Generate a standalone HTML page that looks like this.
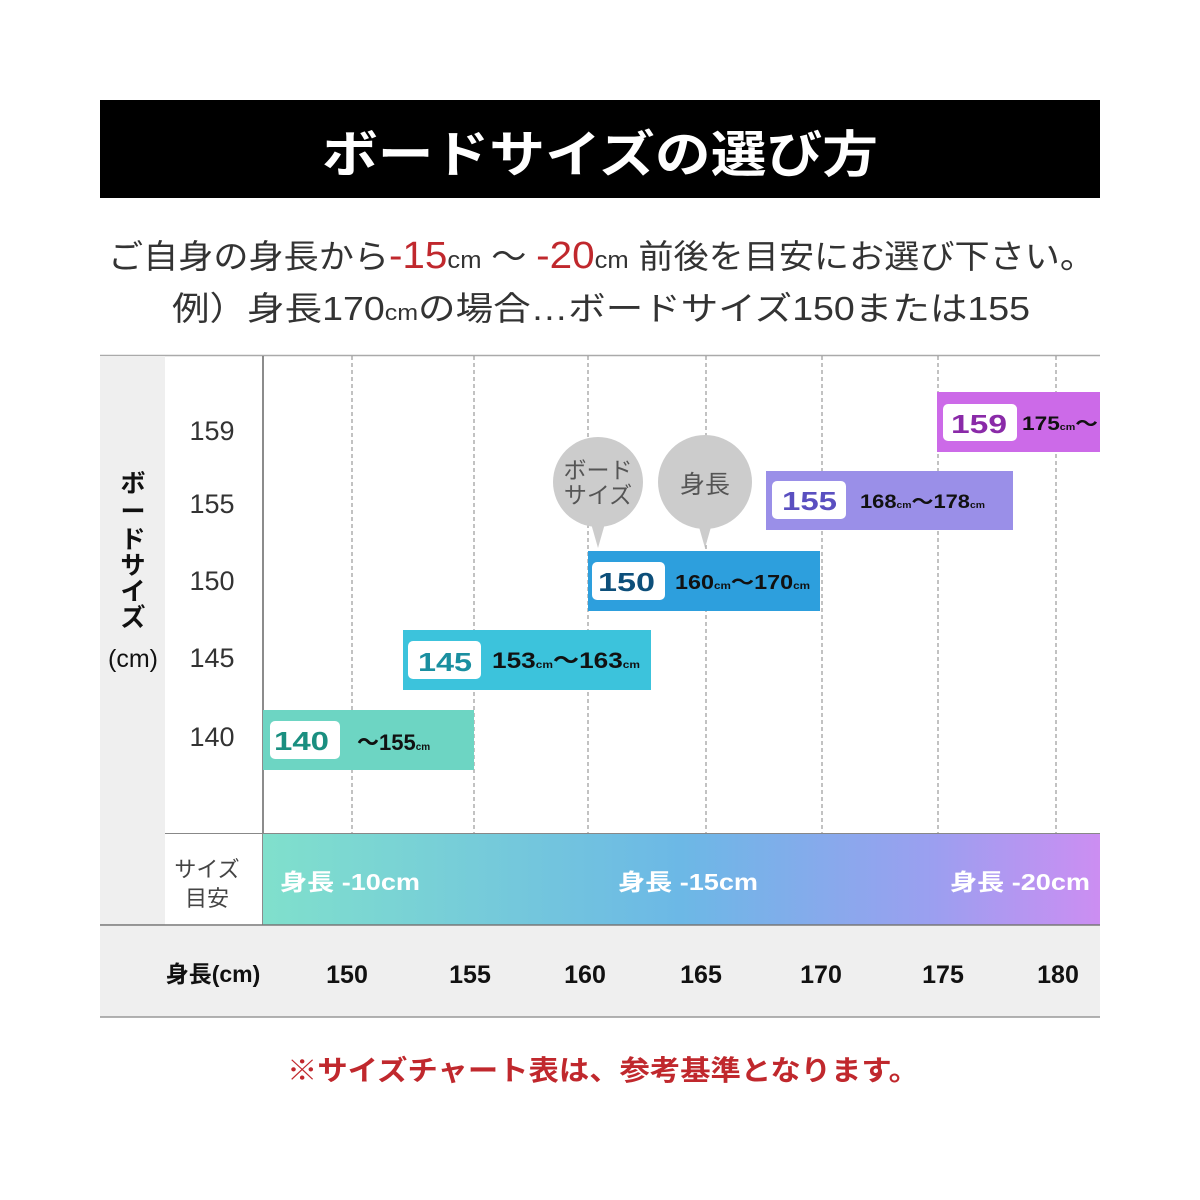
<!DOCTYPE html>
<html><head><meta charset="utf-8"><style>html,body{margin:0;padding:0;background:#fff}svg{display:block}</style></head><body>
<svg width="1200" height="1200" viewBox="0 0 1200 1200" xmlns="http://www.w3.org/2000/svg" font-family="'Liberation Sans','Noto Sans CJK JP',sans-serif">
<defs>
<linearGradient id="g" x1="0" x2="1" y1="0" y2="0">
<stop offset="0" stop-color="#80e0cc"/><stop offset="0.5" stop-color="#6cb8e6"/><stop offset="0.8" stop-color="#9b9ff0"/><stop offset="1" stop-color="#cc8ef2"/>
</linearGradient>
</defs>
<rect x="100" y="100" width="1000" height="98" fill="#000"/>
<text x="600" y="172" fill="#fff" font-size="50" font-weight="bold" text-anchor="middle" textLength="556" lengthAdjust="spacingAndGlyphs">ボードサイズの選び方</text>
<text x="108" y="268" font-size="33" fill="#333" textLength="987" lengthAdjust="spacingAndGlyphs">ご自身の身長から<tspan fill="#c0282d" font-size="38">-15</tspan><tspan font-size="24">cm</tspan> ～ <tspan fill="#c0282d" font-size="38">-20</tspan><tspan font-size="24">cm</tspan> 前後を目安にお選び下さい。</text>
<text x="172" y="320" font-size="33" fill="#333" textLength="858" lengthAdjust="spacingAndGlyphs">例）身長170<tspan font-size="22">cm</tspan>の場合…ボードサイズ150または155</text>
<line x1="100" y1="355.5" x2="1100" y2="355.5" stroke="#aaa" stroke-width="1.5"/>
<rect x="100" y="356" width="65" height="569" fill="#efefef"/>
<line x1="263" y1="356" x2="263" y2="925" stroke="#666" stroke-width="1.5"/>
<g stroke="#999" stroke-width="1.2" stroke-dasharray="4,3">
<line x1="352" y1="356" x2="352" y2="833"/><line x1="474" y1="356" x2="474" y2="833"/><line x1="588" y1="356" x2="588" y2="833"/><line x1="706" y1="356" x2="706" y2="833"/><line x1="822" y1="356" x2="822" y2="833"/><line x1="938" y1="356" x2="938" y2="833"/><line x1="1056" y1="356" x2="1056" y2="833"/>
</g>
<g font-size="25" fill="#111" text-anchor="middle" font-weight="bold">
<text x="133" y="492">ボ</text><text x="133" y="520">ー</text><text x="133" y="548">ド</text><text x="133" y="574">サ</text><text x="133" y="600">イ</text><text x="133" y="626">ズ</text>
<text x="133" y="667" font-weight="normal">(cm)</text>
</g>
<g font-size="27" fill="#333" text-anchor="middle">
<text x="212" y="440">159</text><text x="212" y="513">155</text><text x="212" y="590">150</text><text x="212" y="667">145</text><text x="212" y="746">140</text>
</g>
<rect x="263" y="710" width="211" height="60" fill="#6dd5c3"/>
<rect x="270" y="721" width="70" height="38" rx="5" fill="#fff"/>
<text x="274" y="750" font-size="26" fill="#1a8f80" font-weight="bold" textLength="55" lengthAdjust="spacingAndGlyphs">140</text>
<text x="357" y="750" font-size="22" fill="#111" font-weight="bold">～155<tspan font-size="10">cm</tspan></text>
<rect x="403" y="630" width="248" height="60" fill="#3cc3dc"/>
<rect x="408" y="641" width="73" height="38" rx="5" fill="#fff"/>
<text x="418" y="671" font-size="26" fill="#1a8fa0" font-weight="bold" textLength="54" lengthAdjust="spacingAndGlyphs">145</text>
<text x="492" y="668" font-size="22" fill="#111" font-weight="bold" textLength="148" lengthAdjust="spacingAndGlyphs">153<tspan font-size="10">cm</tspan>～163<tspan font-size="10">cm</tspan></text>
<rect x="588" y="551" width="232" height="60" fill="#2d9fdd"/>
<rect x="592" y="562" width="73" height="38" rx="5" fill="#fff"/>
<text x="598" y="591" font-size="26" fill="#0d4f7a" font-weight="bold" textLength="57" lengthAdjust="spacingAndGlyphs">150</text>
<text x="675" y="589" font-size="20" fill="#111" font-weight="bold" textLength="135" lengthAdjust="spacingAndGlyphs">160<tspan font-size="10">cm</tspan>～170<tspan font-size="10">cm</tspan></text>
<rect x="766" y="471" width="247" height="59" fill="#9a8fe8"/>
<rect x="772" y="481" width="74" height="38" rx="5" fill="#fff"/>
<text x="782" y="510" font-size="26" fill="#5a4fc0" font-weight="bold" textLength="55" lengthAdjust="spacingAndGlyphs">155</text>
<text x="860" y="508" font-size="19" fill="#111" font-weight="bold" textLength="125" lengthAdjust="spacingAndGlyphs">168<tspan font-size="9">cm</tspan>～178<tspan font-size="9">cm</tspan></text>
<rect x="937" y="392" width="163" height="60" fill="#cc6ae8"/>
<rect x="943" y="404" width="74" height="37" rx="5" fill="#fff"/>
<text x="951" y="433" font-size="26" fill="#8a2aa8" font-weight="bold" textLength="56" lengthAdjust="spacingAndGlyphs">159</text>
<text x="1022" y="430" font-size="19" fill="#111" font-weight="bold" textLength="76" lengthAdjust="spacingAndGlyphs">175<tspan font-size="9">cm</tspan>～</text>
<g fill="#ccc">
<circle cx="598" cy="482" r="45"/><polygon points="590,520 606,520 598,548"/>
<circle cx="705" cy="482" r="47"/><polygon points="697,520 713,520 705,548"/>
</g>
<text x="598" y="478" font-size="23" fill="#555" text-anchor="middle">ボード</text>
<text x="598" y="503" font-size="23" fill="#555" text-anchor="middle">サイズ</text>
<text x="705" y="493" font-size="25" fill="#555" text-anchor="middle">身長</text>
<line x1="165" y1="833.5" x2="1100" y2="833.5" stroke="#888" stroke-width="1"/>
<rect x="263" y="834" width="837" height="91" fill="url(#g)"/>
<text x="207" y="877" font-size="22" fill="#444" text-anchor="middle">サイズ</text>
<text x="207" y="906" font-size="22" fill="#444" text-anchor="middle">目安</text>
<g font-size="23" fill="#fff" font-weight="bold">
<text x="280" y="890" textLength="140" lengthAdjust="spacingAndGlyphs">身長 -10cm</text><text x="618" y="890" textLength="140" lengthAdjust="spacingAndGlyphs">身長 -15cm</text><text x="950" y="890" textLength="140" lengthAdjust="spacingAndGlyphs">身長 -20cm</text>
</g>
<line x1="100" y1="925" x2="1100" y2="925" stroke="#777" stroke-width="1.5"/>
<rect x="100" y="926" width="1000" height="91" fill="#efefef"/>
<line x1="100" y1="1017" x2="1100" y2="1017" stroke="#999" stroke-width="1.5"/>
<g font-size="25" fill="#111" font-weight="bold" text-anchor="middle">
<text x="213" y="982" font-size="23">身長(cm)</text>
<text x="347" y="983">150</text><text x="470" y="983">155</text><text x="585" y="983">160</text><text x="701" y="983">165</text><text x="821" y="983">170</text><text x="943" y="983">175</text><text x="1058" y="983">180</text>
</g>
<text x="603" y="1080" font-size="28" fill="#c0282d" font-weight="bold" text-anchor="middle" textLength="632" lengthAdjust="spacingAndGlyphs">※サイズチャート表は、参考基準となります。</text>
</svg>
</body></html>
